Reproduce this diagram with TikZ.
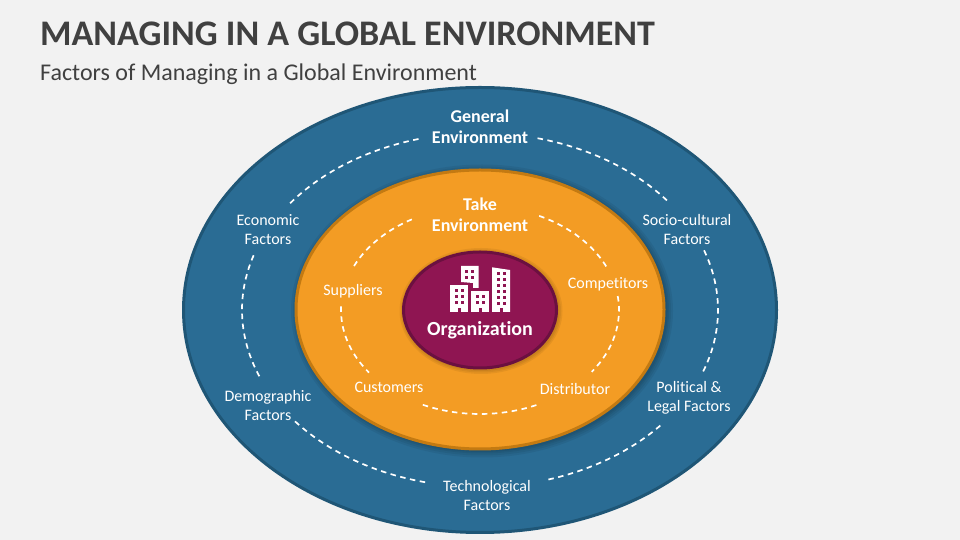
\documentclass[tikz,border=0pt]{standalone}
\usepackage{fontspec}
\setmainfont{Carlito}[Ligatures=NoCommon]
\usetikzlibrary{calc}
\definecolor{pagebg}{HTML}{F2F2F2}
\definecolor{titlegray}{HTML}{404040}
\definecolor{blue}{HTML}{2A6C94}
\definecolor{blueedge}{HTML}{1F5676}
\definecolor{amber}{HTML}{F39C24}
\definecolor{amberedge}{HTML}{C37A12}
\definecolor{wine}{HTML}{8F1552}
\definecolor{wineedge}{HTML}{6B1040}
\tikzset{
  x=1pt,y=1pt,
  titletext/.style={anchor=base west,inner sep=0pt,text=titlegray,font=\fontsize{36}{40}\selectfont\bfseries},
  subtext/.style={anchor=base west,inner sep=0pt,text=titlegray,font=\fontsize{24}{28}\selectfont},
  factor/.style={inner sep=0pt,align=center,text=white,font=\fontsize{16}{19.2}\selectfont},
  envtext/.style={inner sep=0pt,align=center,text=white,font=\fontsize{18}{21}\selectfont\bfseries},
  orgtext/.style={inner sep=0pt,align=center,text=white,font=\fontsize{20}{24}\selectfont\bfseries},
  guide/.style={draw=white,line width=1.7pt,dash pattern=on 5.5pt off 4.5pt},
  softshadow/.style={fill=black,fill opacity=.06,draw=none},
  outerdisc/.style={fill=blue,draw=blueedge,line width=3pt},
  middledisc/.style={fill=amber,draw=amberedge,line width=3pt},
  innerdisc/.style={fill=wine,draw=wineedge,line width=3pt},
  tower/.style={fill=white,draw=none},
  pane/.style={fill=wine,draw=none},
}
% #1 centre, #2 x radius, #3 y radius, #4 from, #5 to
\newcommand{\guidearc}[5]{\draw[guide] (#1) ++(#4:#2 and #3) arc[start angle=#4,end angle=#5,x radius=#2,y radius=#3];}
\newcommand{\panes}[2]{\foreach \px in {#1}{\foreach \py in {#2}{\fill[pane] (\px-1.5,\py-1.5) rectangle (\px+1.5,\py+1.5);}}}
\begin{document}
\begin{tikzpicture}
\useasboundingbox (0,0) rectangle (960,540);
\fill[pagebg] (0,0) rectangle (960,540);
\node[titletext] (title) at (40,494) {MANAGING IN A GLOBAL ENVIRONMENT};
\node[subtext] (subtitle) at (40,459.5) {Factors of Managing in a Global Environment};
\coordinate (c) at (480,230);
% outer disc
\path[outerdisc] (c) ellipse (296.5 and 222.5);
% middle disc with soft shadow
\foreach \g in {6,4,2,.5}{\fill[softshadow] ($(c)+(2,-1)$) ellipse ({185+\g} and {140.5+\g});}
\path[middledisc] ($(c)+(0,.5)$) ellipse (184 and 139.5);
% inner disc with soft shadow
\foreach \g in {3.5,2,.5}{\fill[softshadow] ($(c)+(1,-1)$) ellipse ({78+\g} and {59.5+\g});}
\path[innerdisc] (c) ellipse (76.5 and 58);
% outer guides
\guidearc{c}{238}{177}{142.9}{104}
\guidearc{c}{238}{177}{76}{37}
\guidearc{c}{238}{177}{162}{202.7}
\guidearc{c}{238}{177}{19.7}{-21}
\guidearc{c}{238}{177}{-73.3}{-40}
\guidearc{c}{238}{177}{219}{257.5}
% middle guides
\guidearc{c}{139}{104}{155}{119}
\guidearc{c}{139}{104}{64.8}{23.2}
\guidearc{c}{139}{104}{178}{217}
\guidearc{c}{139}{104}{245.7}{294.6}
\guidearc{c}{139}{104}{7.7}{-36.5}
% buildings
\fill[tower] (450,228) rectangle (468,255);
\fill[tower] (471.3,228) rectangle (489,249);
\fill[tower] (492,228) -- (492,272.7) -- (510,270) -- (510,228) -- cycle;
\fill[tower] (461,274) -- (478.5,274) -- (478.5,252) -- (473,252) -- (473,257) -- (461,258) -- cycle;
\panes{456,462}{249,243,237}
\panes{477,483}{243,237}
\panes{498,504}{266,260,254,248,242,236}
\panes{466,472}{268,262}
\fill[pane] (457.5,228) rectangle (460.5,232);
\fill[pane] (478.5,228) rectangle (481.5,232);
\fill[pane] (499.5,228) rectangle (502.5,232);
% texts
\node[orgtext] (org) at (480,210) {Organization};
\node[envtext] (general) at (480,413.5) {General\\Environment};
\node[envtext] (take) at (480,325) {Take\\Environment};
\node[factor] (economic) at (268,310.5) {Economic\\Factors};
\node[factor] (socio) at (687,310.5) {Socio-cultural\\Factors};
\node[factor] (demographic) at (268,134.5) {Demographic\\Factors};
\node[factor] (political) at (689,142) {Political \&\\Legal Factors};
\node[factor] (techno) at (487,44.5) {Technological\\Factors};
\node[factor] (suppliers) at (353,249) {Suppliers};
\node[factor] (competitors) at (608,256) {Competitors};
\node[factor] (customers) at (389,153) {Customers};
\node[factor] (distributor) at (575,151) {Distributor};
\end{tikzpicture}
\end{document}
